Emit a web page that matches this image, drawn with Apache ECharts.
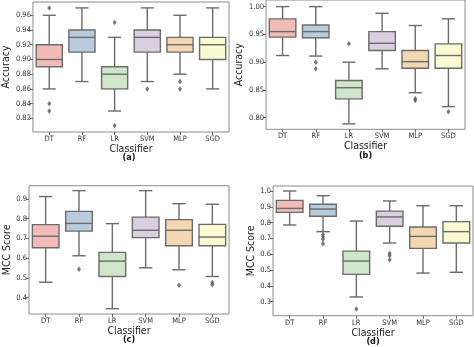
<!DOCTYPE html>
<html>
<head>
<meta charset="utf-8">
<script src="https://cdn.jsdelivr.net/npm/echarts@6/dist/echarts.min.js"></script>
<style>
  html, body { margin: 0; padding: 0; background: #fff; }
  #chart { width: 474px; height: 347px; }
</style>
</head>
<body>
<div id="chart"></div>
<script>
// Classifiers compared in every panel
const categories = ['DT', 'RF', 'LR', 'SVM', 'MLP', 'SGD'];

// Box statistics per classifier: [lower whisker, Q1, median, Q3, upper whisker]
const accuracyA = [
  [0.86, 0.89, 0.90, 0.92, 0.96],
  [0.87, 0.91, 0.93, 0.94, 0.97],
  [0.83, 0.86, 0.88, 0.89, 0.93],
  [0.87, 0.91, 0.93, 0.94, 0.97],
  [0.88, 0.91, 0.92, 0.93, 0.96],
  [0.86, 0.90, 0.92, 0.93, 0.97]
];
const accuracyB = [
  [0.912, 0.945, 0.955, 0.978, 1.000],
  [0.911, 0.944, 0.955, 0.967, 1.000],
  [0.789, 0.834, 0.854, 0.867, 0.900],
  [0.888, 0.921, 0.934, 0.955, 0.988],
  [0.845, 0.889, 0.901, 0.921, 0.966],
  [0.820, 0.889, 0.912, 0.933, 0.978]
];
const mccC = [
  [0.478, 0.653, 0.711, 0.770, 0.912],
  [0.612, 0.737, 0.776, 0.837, 0.942],
  [0.344, 0.507, 0.585, 0.629, 0.775],
  [0.551, 0.704, 0.741, 0.808, 0.942],
  [0.541, 0.663, 0.741, 0.795, 0.876],
  [0.507, 0.663, 0.707, 0.771, 0.873]
];
const mccD = [
  [0.785, 0.865, 0.890, 0.941, 1.000],
  [0.743, 0.840, 0.886, 0.916, 0.970],
  [0.330, 0.473, 0.557, 0.620, 0.810],
  [0.671, 0.777, 0.836, 0.873, 0.937],
  [0.481, 0.637, 0.713, 0.772, 0.907],
  [0.486, 0.671, 0.743, 0.806, 0.907]
];

// Outliers: [classifier index, value]
const outliersA = [[0, 0.97], [0, 0.84], [0, 0.83], [2, 0.95], [2, 0.81], [3, 0.86], [4, 0.87], [4, 0.86]];
const outliersB = [[1, 0.900], [1, 0.888], [2, 0.933], [4, 0.834], [4, 0.831], [5, 0.811]];
const outliersC = [[1, 0.544], [4, 0.463], [5, 0.476], [5, 0.465]];
const outliersD = [[1, 0.725], [1, 0.71], [1, 0.695], [1, 0.667], [2, 0.254], [3, 0.605], [3, 0.59], [3, 0.566]];

// Tick values per panel
const ticksA = [0.82, 0.84, 0.86, 0.88, 0.90, 0.92, 0.94, 0.96];
const ticksB = [0.80, 0.85, 0.90, 0.95, 1.00];
const ticksC = [0.4, 0.5, 0.6, 0.7, 0.8, 0.9];
const ticksD = [0.3, 0.4, 0.5, 0.6, 0.7, 0.8, 0.9, 1.0];

// Value-axis extents per panel
const rangeA = [0.8015, 0.978];
const rangeB = [0.7792, 1.0119];
const rangeC = [0.317, 0.967];
const rangeD = [0.2114, 1.0316];

const palette = ['#f1bcb8', '#b9ccdd', '#cfe6ca', '#dccee1', '#f3d7b1', '#f9f9d2'];
const LINE = '#6b6b6b';
const FONT = "'DejaVu Sans Condensed', 'DejaVu Sans', sans-serif";

const panels = [
  { stats: accuracyA, out: outliersA, ticks: ticksA, range: rangeA, digits: 2, yName: 'Accuracy', tag: '(a)',
    grid: { left: 29, top: 2, width: 200, height: 130 }, yGap: 19 },
  { stats: accuracyB, out: outliersB, ticks: ticksB, range: rangeB, digits: 2, yName: 'Accuracy', tag: '(b)',
    grid: { left: 266, top: -1, width: 199, height: 130.3 }, yGap: 20 },
  { stats: mccC, out: outliersC, ticks: ticksC, range: rangeC, digits: 1, yName: 'MCC Score', tag: '(c)',
    grid: { left: 29, top: 185.7, width: 200, height: 128.3 }, yGap: 16 },
  { stats: mccD, out: outliersD, ticks: ticksD, range: rangeD, digits: 1, yName: 'MCC Score', tag: '(d)',
    grid: { left: 273, top: 186, width: 200, height: 129.7 }, yGap: 16.5 }
];

// Draws one seaborn-style box: whiskers with half-width caps, filled box, median line
function renderBox(params, api) {
  const idx = api.value(0);
  const lo = api.coord([idx, api.value(1)]);
  const q1 = api.coord([idx, api.value(2)]);
  const md = api.coord([idx, api.value(3)]);
  const q3 = api.coord([idx, api.value(4)]);
  const hi = api.coord([idx, api.value(5)]);
  const band = api.size([1, 0])[0];
  const w = band * 0.8;
  const cap = w / 4;
  const cx = lo[0];
  const ls = { stroke: LINE, lineWidth: 1.4, fill: null };
  return {
    type: 'group',
    children: [
      { type: 'line', shape: { x1: cx, y1: q3[1], x2: cx, y2: hi[1] }, style: ls },
      { type: 'line', shape: { x1: cx, y1: q1[1], x2: cx, y2: lo[1] }, style: ls },
      { type: 'line', shape: { x1: cx - cap, y1: hi[1], x2: cx + cap, y2: hi[1] }, style: ls },
      { type: 'line', shape: { x1: cx - cap, y1: lo[1], x2: cx + cap, y2: lo[1] }, style: ls },
      { type: 'rect', shape: { x: cx - w / 2, y: q3[1], width: w, height: q1[1] - q3[1] },
        style: { fill: palette[idx], stroke: LINE, lineWidth: 1.4 } },
      { type: 'line', shape: { x1: cx - w / 2, y1: md[1], x2: cx + w / 2, y2: md[1] }, style: ls }
    ]
  };
}

const option = {
  animation: false,
  backgroundColor: '#fff',
  textStyle: { fontFamily: FONT },
  grid: [], xAxis: [], yAxis: [], series: [], graphic: []
};

panels.forEach((p, i) => {
  option.grid.push(Object.assign({ show: true, borderColor: '#8c8c8c', borderWidth: 1, backgroundColor: 'transparent' }, p.grid));
  option.xAxis.push({
    type: 'category', gridIndex: i, data: categories,
    name: 'Classifier', nameLocation: 'middle', nameGap: 11.5,
    nameTextStyle: { fontSize: 10.5, color: '#222', fontFamily: FONT },
    axisLine: { show: false },
    axisTick: { show: true, alignWithLabel: true, length: 3, lineStyle: { color: '#666' } },
    axisLabel: { fontSize: 7.5, color: '#333', margin: 3, fontFamily: FONT },
    splitLine: { show: false }
  });
  option.yAxis.push({
    type: 'value', gridIndex: i, min: p.range[0], max: p.range[1],
    name: p.yName, nameLocation: 'middle', nameGap: p.yGap, nameRotate: 90,
    nameTextStyle: { fontSize: 10.5, color: '#222', fontFamily: FONT },
    axisLine: { show: false },
    axisTick: { show: true, length: 3, customValues: p.ticks, lineStyle: { color: '#666' } },
    axisLabel: { fontSize: 7.5, color: '#333', margin: 2, customValues: p.ticks, fontFamily: FONT,
      formatter: v => Number(v).toFixed(p.digits) },
    splitLine: { show: false }
  });
  option.series.push({
    type: 'custom', xAxisIndex: i, yAxisIndex: i,
    renderItem: renderBox,
    encode: { x: 0, y: [1, 2, 3, 4, 5] },
    data: p.stats.map((s, k) => [k].concat(s)),
    z: 2
  });
  option.series.push({
    type: 'scatter', xAxisIndex: i, yAxisIndex: i,
    symbol: 'diamond', symbolSize: [4, 5.5],
    itemStyle: { color: '#555' },
    data: p.out, z: 3
  });
  option.graphic.push({
    type: 'text', silent: true,
    x: p.grid.left + p.grid.width / 2,
    y: p.grid.top + p.grid.height + 26,
    style: { text: p.tag, font: 'bold 9px ' + FONT, fill: '#111', align: 'center', verticalAlign: 'middle' }
  });
});

const chart = echarts.init(document.getElementById('chart'), null, { renderer: 'canvas' });
chart.setOption(option);
</script>
</body>
</html>
